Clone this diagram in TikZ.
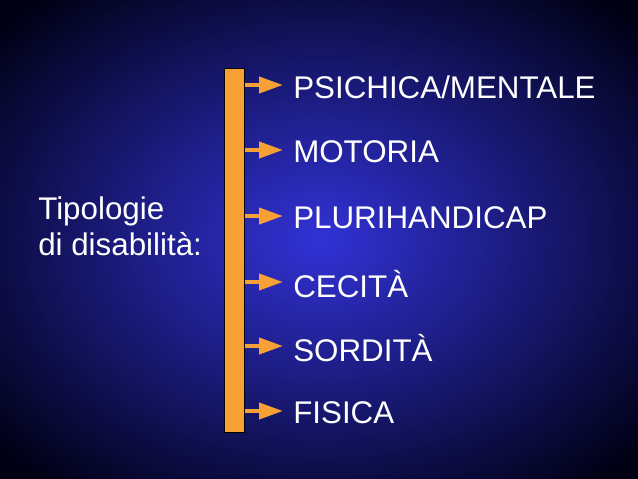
\documentclass[tikz,border=0pt]{standalone}
\usepackage{fontspec}
\setmainfont{Liberation Sans}
\usetikzlibrary{arrows.meta}
\definecolor{org}{HTML}{F7A035}
\tikzset{lbl/.style={anchor=west,text=white,font=\fontsize{23.5}{27}\selectfont,inner sep=0pt},
arr/.style={org,line width=3pt,-{Triangle[length=18pt,width=12pt]}}}
\begin{document}
\begin{tikzpicture}[x=0.75pt,y=-0.75pt]
\useasboundingbox (0,0) rectangle (638,478);
\path[inner color={rgb,255:red,50;green,50;blue,215},outer color={rgb,255:red,0;green,0;blue,20}] (-110,-80) rectangle (748,558);
\fill[org,draw=black,line width=0.4pt] (224,68) rectangle (244,432);
\node[lbl,anchor=west] (t) at (38,230) {\begin{tabular}{@{}l@{}}Tipologie\\di disabilità:\end{tabular}};
\foreach \n/\y/\t in {a/87/{PSICHICA/MENTALE},b/152/MOTORIA,c/218/PLURIHANDICAP,d/284/CECITÀ,e/348/SORDITÀ,f/413/FISICA}{
 \coordinate (s\n) at (245,\y-2);
 \node[lbl] (\n) at (293,\y) {\t};
 \draw[arr] (s\n) -- ++(38,0);
}
\end{tikzpicture}
\end{document}
